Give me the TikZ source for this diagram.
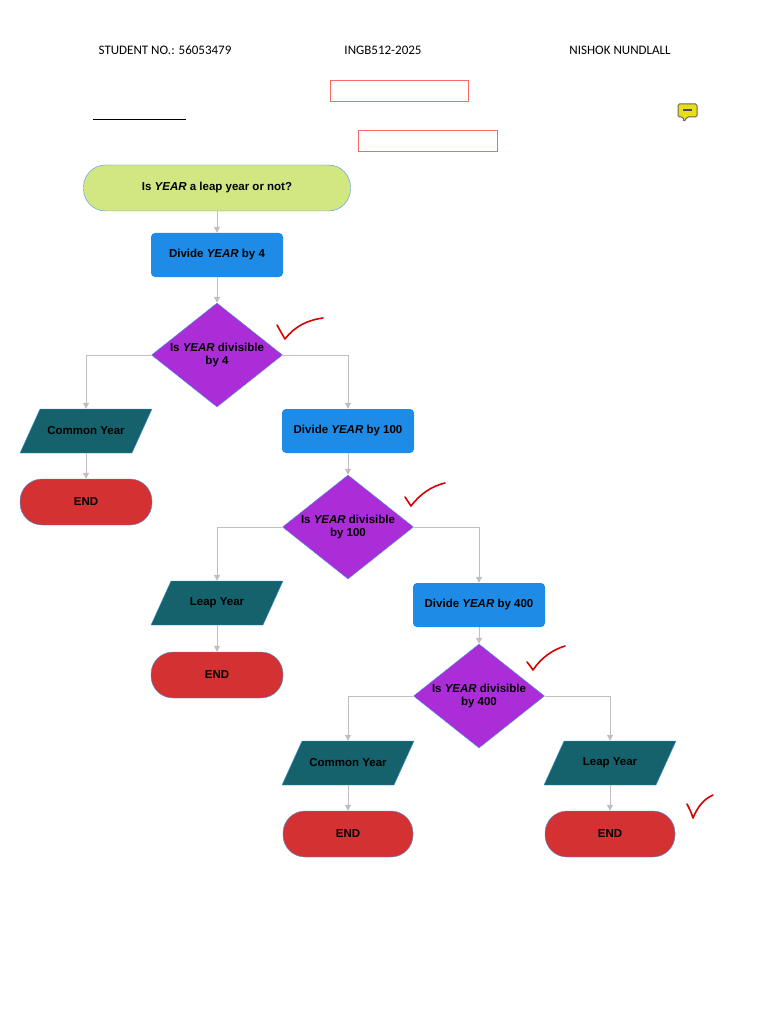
\documentclass[tikz,border=0pt]{standalone}
\usepackage{fontspec}
\setmainfont{Liberation Sans}
\newfontfamily\hdr{Carlito}
\usetikzlibrary{shapes.geometric,arrows.meta}
\definecolor{startg}{RGB}{210,230,130}
\definecolor{procb}{RGB}{30,140,230}
\definecolor{decp}{RGB}{170,45,215}
\definecolor{iot}{RGB}{22,98,108}
\definecolor{endr}{RGB}{212,50,50}
\definecolor{edgeb}{RGB}{70,150,230}
\tikzset{
  base/.style={font=\bfseries\fontsize{11.5}{13}\selectfont, align=center, inner sep=0pt},
  term/.style={base, rounded corners=22pt, fill=#1, draw=edgeb, minimum height=46pt},
  proc/.style={base, rounded corners=4pt, fill=procb, minimum width=132pt, minimum height=44pt},
  dec/.style={base, diamond, fill=decp, draw=edgeb, inner sep=-6pt, minimum width=131pt, minimum height=104pt},
  io/.style={base, minimum width=132pt, minimum height=44pt},
  flow/.style={draw=gray!50, line width=1pt, -{Triangle[length=6pt,width=6pt]}},
  tick/.style={draw=red!85!black, line width=1.6pt, line cap=round, line join=round}
}
% parallelogram box: name, x, y, text
\newcommand\iobox[4]{%
  \filldraw[fill=iot, draw=edgeb] (#2-66,#3+22) -- (#2+46,#3+22) -- (#2+66,#3-22) -- (#2-46,#3-22) -- cycle;
  \node[io] (#1) at (#2,#3) {#4};}
\begin{document}
\begin{tikzpicture}[x=1pt,y=-1pt]
\useasboundingbox (0,0) rectangle (768,1024);
% header
\node[font=\hdr\fontsize{13}{15}\selectfont] (sno) at (165,50) {STUDENT NO.: 56053479};
\node[font=\hdr\fontsize{13}{15}\selectfont] (crs) at (383,50) {INGB512-2025};
\node[font=\hdr\fontsize{13}{15}\selectfont] (nam) at (620,50) {NISHOK NUNDLALL};
\draw[red!60, line width=0.8pt] (330,80) rectangle (468,101);
\draw[red!60, line width=0.8pt] (358,130) rectangle (497,151);
\draw[line width=0.8pt] (93,119) -- (186,119);
\fill[yellow!90!black, draw=black!60, rounded corners=1.5pt, line width=1pt]
  (678,104) -- (697,104) -- (697,117) -- (687,117) -- (684,122) -- (683,117) -- (678,117) -- cycle;
\draw[black!70, line width=1.2pt] (683,110) -- (692,110);

% flow chart
\node[term=startg, minimum width=267pt] (start) at (217,188) {Is \emph{YEAR} a leap year or not?};
\node[proc] (div4) at (217,255) {Divide \emph{YEAR} by 4};
\node[dec] (is4) at (217,355) {Is \emph{YEAR} divisible\\by 4};
\iobox{com1}{86}{431}{Common Year}
\node[term=endr, minimum width=132pt] (end1) at (86,502) {END};
\node[proc] (div100) at (348,431) {Divide \emph{YEAR} by 100};
\node[dec] (is100) at (348,527) {Is \emph{YEAR} divisible\\by 100};
\iobox{leap1}{217}{603}{Leap Year}
\node[term=endr, minimum width=132pt] (end2) at (217,675) {END};
\node[proc] (div400) at (479,605) {Divide \emph{YEAR} by 400};
\node[dec] (is400) at (479,696) {Is \emph{YEAR} divisible\\by 400};
\iobox{com2}{348}{763}{Common Year}
\iobox{leap2}{610}{763}{Leap Year}
\node[term=endr, minimum width=130pt] (end3) at (348,834) {END};
\node[term=endr, minimum width=130pt] (end4) at (610,834) {END};

\draw[flow] (start) -- (div4);
\draw[flow] (div4) -- (is4);
\draw[flow] (is4.west) -| (com1);
\draw[flow] (is4.east) -| (div100);
\draw[flow] (com1) -- (end1);
\draw[flow] (div100) -- (is100);
\draw[flow] (is100.west) -| (leap1);
\draw[flow] (is100.east) -| (div400);
\draw[flow] (leap1) -- (end2);
\draw[flow] (div400) -- (is400);
\draw[flow] (is400.west) -| (com2);
\draw[flow] (is400.east) -| (leap2);
\draw[flow] (com2) -- (end3);
\draw[flow] (leap2) -- (end4);

% ticks
\draw[tick] (277,325) .. controls (282,334) .. (285,339) .. controls (295,326) and (308,320) .. (323,318);
\draw[tick] (405,497) .. controls (409,503) .. (411,506) .. controls (420,494) and (432,486) .. (445,483);
\draw[tick] (527,662) .. controls (531,667) .. (533,670) .. controls (541,658) and (552,650) .. (565,646);
\draw[tick] (687,804) .. controls (691,812) .. (693,818) .. controls (698,806) and (704,799) .. (713,795);
\end{tikzpicture}
\end{document}
